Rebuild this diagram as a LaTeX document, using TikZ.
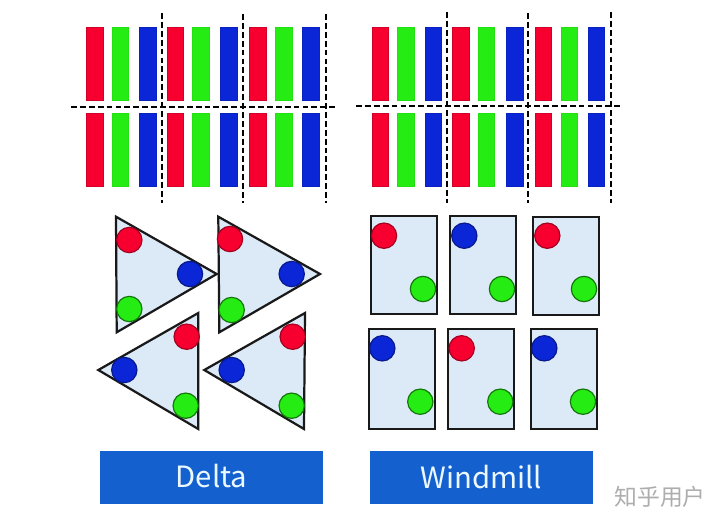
\documentclass[tikz,border=0pt]{standalone}
\usepackage{fontspec}
\setmainfont{Noto Sans}
\newfontfamily\cjk{Noto Sans CJK SC}
\definecolor{subred}{HTML}{F70030}
\definecolor{subgreen}{HTML}{25EC12}
\definecolor{subblue}{HTML}{0A26D6}
\definecolor{cellfill}{HTML}{DCE9F7}
\definecolor{bannerblue}{HTML}{1560CF}
\begin{document}
\begin{tikzpicture}[x=0.03cm, y=-0.03cm,
    stripe/.style = {rectangle, inner sep=0pt, minimum width=0.5cm, minimum height=2.19cm, line width=0.4pt},
    r/.style = {stripe, fill=subred, draw=subred!85!black},
    g/.style = {stripe, fill=subgreen, draw=subgreen!95!black},
    b/.style = {stripe, fill=subblue, draw=subblue!90!black},
    dot/.style = {circle, inner sep=0pt, minimum size=0.76cm, line width=1pt},
    rd/.style = {dot, fill=subred, draw=subred!65!black},
    gd/.style = {dot, fill=subgreen, draw=subgreen!50!black},
    bd/.style = {dot, fill=subblue, draw=subblue!65!black},
    cut/.style = {black, line width=1.6pt, dash pattern=on 5pt off 2.6pt},
    cell/.style = {draw=black!90, line width=1.9pt, fill=cellfill, line join=miter},
    banner/.style = {rectangle, inner sep=0pt, fill=bannerblue, text=cyan!8, minimum width=6.69cm, minimum height=1.59cm, font=\cjk\fontsize{25}{28}\selectfont}]
    \useasboundingbox (0,0) rectangle (720,526);
    % left stripes
    \node[r](l1) at (95,64) {};
    \node[g](l2) at (120.3,64) {};
    \node[b](l3) at (147.8,64) {};
    \node[r](l4) at (175.2,64) {};
    \node[g](l5) at (201,64) {};
    \node[b](l6) at (228.8,64) {};
    \node[r](l7) at (257.8,64) {};
    \node[g](l8) at (284,64) {};
    \node[b](l9) at (310.8,64) {};
    \node[r](l10) at (95,149.7) {};
    \node[g](l11) at (120.3,149.7) {};
    \node[b](l12) at (147.8,149.7) {};
    \node[r](l13) at (175.2,149.7) {};
    \node[g](l14) at (201,149.7) {};
    \node[b](l15) at (228.8,149.7) {};
    \node[r](l16) at (257.8,149.7) {};
    \node[g](l17) at (284,149.7) {};
    \node[b](l18) at (310.8,149.7) {};
    \draw[cut] (71,107) -- (335,107);
    \draw[cut] (162,13) -- (162,203);
    \draw[cut] (243,14) -- (243,203);
    \draw[cut] (325.7,14) -- (325.7,203);
    % right stripes
    \node[r](w1) at (380.2,64) {};
    \node[g](w2) at (405.7,64) {};
    \node[b](w3) at (433.2,64) {};
    \node[r](w4) at (460.5,64) {};
    \node[g](w5) at (486.3,64) {};
    \node[b](w6) at (514.5,64) {};
    \node[r](w7) at (543.2,64) {};
    \node[g](w8) at (569.3,64) {};
    \node[b](w9) at (596.2,64) {};
    \node[r](w10) at (380.2,149.7) {};
    \node[g](w11) at (405.7,149.7) {};
    \node[b](w12) at (433.2,149.7) {};
    \node[r](w13) at (460.5,149.7) {};
    \node[g](w14) at (486.3,149.7) {};
    \node[b](w15) at (514.5,149.7) {};
    \node[r](w16) at (543.2,149.7) {};
    \node[g](w17) at (569.3,149.7) {};
    \node[b](w18) at (596.2,149.7) {};
    \draw[cut] (356,106) -- (620,106);
    \draw[cut] (447,12) -- (447,203);
    \draw[cut] (528,13) -- (528,203);
    \draw[cut] (610.7,12) -- (610.7,203);
    % delta cells
    \draw[cell] (116,216.7) -- (216.7,274) -- (116.7,332.3) -- cycle;
    \draw[cell] (218.3,216.7) -- (320,274) -- (219.3,332.3) -- cycle;
    \draw[cell] (198.3,313) -- (98.3,370) -- (198.3,429) -- cycle;
    \draw[cell] (305,313) -- (204.3,370) -- (304,429) -- cycle;
    \node[rd](d1) at (129.3,240) {};
    \node[bd](d2) at (190,274) {};
    \node[gd](d3) at (129.3,309) {};
    \node[rd](d4) at (230,239) {};
    \node[bd](d5) at (291.7,274) {};
    \node[gd](d6) at (231.7,310) {};
    \node[rd](d7) at (186.7,336.7) {};
    \node[bd](d8) at (124.3,370) {};
    \node[gd](d9) at (185.7,405.7) {};
    \node[rd](d10) at (292.7,336.7) {};
    \node[bd](d11) at (231.7,370) {};
    \node[gd](d12) at (291.7,405.7) {};
    % windmill cells
    \draw[cell] (370.7,216) rectangle (436.7,314.3);
    \draw[cell] (449.7,216) rectangle (515.7,314.3);
    \draw[cell] (532.7,216.7) rectangle (598.7,315);
    \draw[cell] (368.7,328.7) rectangle (434.7,429.3);
    \draw[cell] (448,328.7) rectangle (514,429.3);
    \draw[cell] (530.7,328.7) rectangle (597,429.3);
    \node[rd](m1) at (384,235.7) {};
    \node[gd](m2) at (423,289) {};
    \node[bd](m3) at (464.3,235.7) {};
    \node[gd](m4) at (502,289) {};
    \node[rd](m5) at (547.3,235.7) {};
    \node[gd](m6) at (584,289) {};
    \node[bd](m7) at (382.3,348.3) {};
    \node[gd](m8) at (420.3,401.7) {};
    \node[rd](m9) at (461.7,348.3) {};
    \node[gd](m10) at (500.3,401.7) {};
    \node[bd](m11) at (544.3,348.3) {};
    \node[gd](m12) at (583,401.7) {};
    % labels
    \node[banner](delta) at (211.5,477.5) {\raisebox{2pt}{Delta}};
    \node[banner](windmill) at (481.5,477.5) {\raisebox{-1pt}{Windmill}};
    \node[text=black!32, font=\cjk\fontsize{19.5}{21}\selectfont](mark) at (660,497) {知乎用户};
\end{tikzpicture}
\end{document}
